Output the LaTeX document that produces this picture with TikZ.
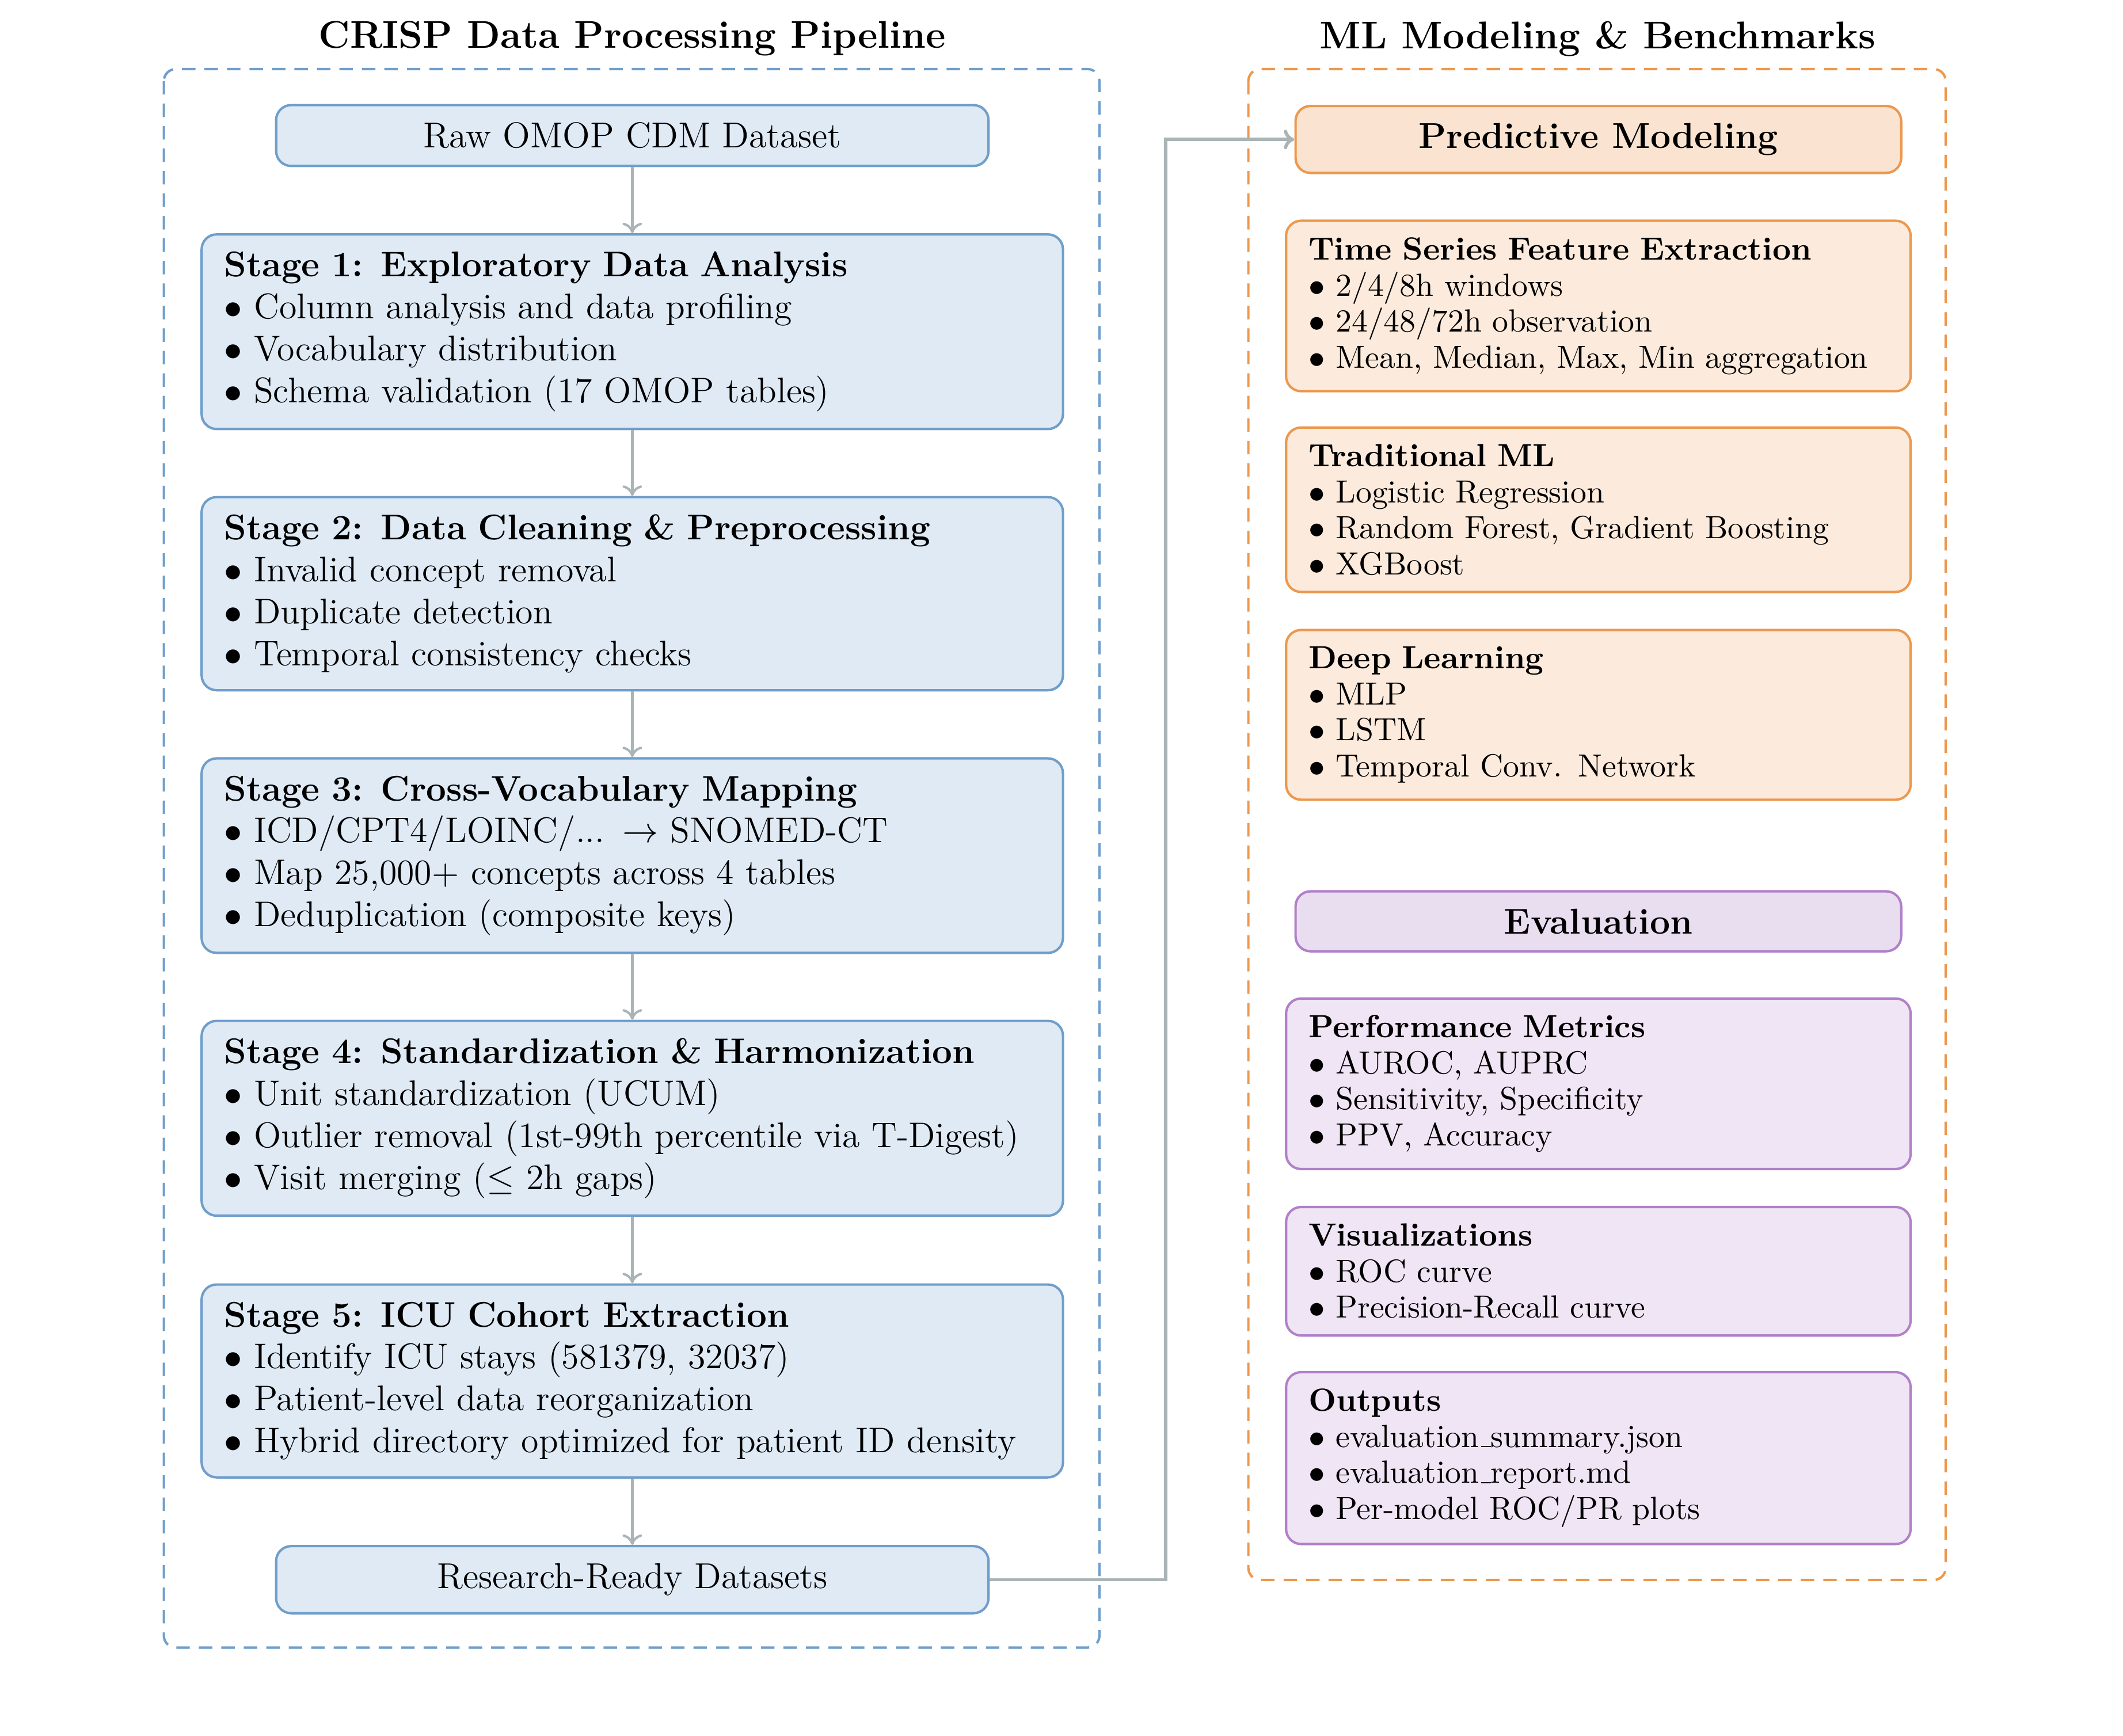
\documentclass[tikz,border=0pt]{standalone}
\usetikzlibrary{arrows.meta}
\definecolor{bluebd}{RGB}{112,158,203}
\definecolor{bluefill}{RGB}{223,234,245}
\definecolor{orbd}{RGB}{236,152,78}
\definecolor{orhead}{RGB}{250,228,209}
\definecolor{orfill}{RGB}{252,235,220}
\definecolor{pubd}{RGB}{177,128,201}
\definecolor{puhead}{RGB}{233,222,240}
\definecolor{pufill}{RGB}{240,229,244}
\definecolor{flowgray}{RGB}{170,180,182}
\newcommand\ulbar{\leavevmode\kern.06em\vbox{\hrule width.3em}}
\begin{document}
\begin{tikzpicture}[x=0.4516pt,y=-0.4516pt,
  basebox/.style={line width=0.8pt, rounded corners=5pt, inner ysep=5.8pt},
  stagebox/.style={basebox, draw=bluebd, fill=bluefill, text width=272.3pt, inner xsep=7.5pt, align=left, font=\fontsize{11.9}{14}\selectfont},
  endbox/.style={basebox, draw=bluebd, fill=bluefill, minimum width=237.6pt, font=\large},
  orhdr/.style={basebox, draw=orbd, fill=orhead, minimum width=202pt, font=\large\bfseries},
  orsub/.style={basebox, draw=orbd, fill=orfill, text width=193.3pt, inner xsep=7.5pt, inner ysep=5.6pt, align=left, font=\fontsize{10.7}{12}\selectfont},
  puhdr/.style={basebox, draw=pubd, fill=puhead, minimum width=202pt, font=\large\bfseries},
  pusub/.style={basebox, draw=pubd, fill=pufill, text width=193.3pt, inner xsep=7.5pt, inner ysep=5.6pt, align=left, font=\fontsize{10.7}{12}\selectfont},
  grp/.style={line width=0.8pt, dash pattern=on 4.5pt off 3pt, rounded corners=4pt},
  ttl/.style={font=\fontsize{12.9}{15}\selectfont\bfseries},
  flow/.style={draw=flowgray, line width=0.8pt, -{To[length=3.5pt,width=6.5pt]}},
  flowthick/.style={draw=flowgray, line width=1.1pt, -{To[length=3.5pt,width=6.5pt]}}
]
\useasboundingbox (0,0) rectangle (1568,1282);

% group frames
\draw[grp, draw=bluebd] (121,51) rectangle (812,1217);
\draw[grp, draw=orbd] (922,51) rectangle (1437,1167);

% titles
\node[ttl] (t1) at (467,28.5) {CRISP Data Processing Pipeline};
\node[ttl] (t2) at (1180,28.5) {ML Modeling \& Benchmarks};

% left column
\node[endbox] (raw) at (467,100.1) {Raw OMOP CDM Dataset};
\node[stagebox] (s1) at (467,245) {\textbf{Stage 1: Exploratory Data Analysis}\\
$\bullet$ Column analysis and data profiling\\
$\bullet$ Vocabulary distribution\\
$\bullet$ Schema validation (17 OMOP tables)};
\node[stagebox] (s2) at (467,438.5) {\textbf{Stage 2: Data Cleaning \& Preprocessing}\\
$\bullet$ Invalid concept removal\\
$\bullet$ Duplicate detection\\
$\bullet$ Temporal consistency checks};
\node[stagebox] (s3) at (467,632) {\textbf{Stage 3: Cross-Vocabulary Mapping}\\
$\bullet$ ICD/CPT4/LOINC/... $\rightarrow$ SNOMED-CT\\
$\bullet$ Map 25,000+ concepts across 4 tables\\
$\bullet$ Deduplication (composite keys)};
\node[stagebox] (s4) at (467,826) {\textbf{Stage 4: Standardization \& Harmonization}\\
$\bullet$ Unit standardization (UCUM)\\
$\bullet$ Outlier removal (1st-99th percentile via T-Digest)\\
$\bullet$ Visit merging ($\leq$ 2h gaps)};
\node[stagebox] (s5) at (467,1020) {\textbf{Stage 5: ICU Cohort Extraction}\\
$\bullet$ Identify ICU stays (581379, 32037)\\
$\bullet$ Patient-level data reorganization\\
$\bullet$ Hybrid directory optimized for patient ID density};
\node[endbox] (rr) at (467,1166.8) {Research-Ready Datasets};

% right column
\node[orhdr] (pred) at (1180.5,103) {Predictive Modeling};
\node[orsub] (ts) at (1180.5,226) {\textbf{Time Series Feature Extraction}\\
$\bullet$ 2/4/8h windows\\
$\bullet$ 24/48/72h observation\\
$\bullet$ Mean, Median, Max, Min aggregation};
\node[orsub] (tml) at (1180.5,376.5) {\textbf{Traditional ML}\\
$\bullet$ Logistic Regression\\
$\bullet$ Random Forest, Gradient Boosting\\
$\bullet$ XGBoost};
\node[orsub] (dl) at (1180.5,528) {\textbf{Deep Learning}\\
$\bullet$ MLP\\
$\bullet$ LSTM\\
$\bullet$ Temporal Conv. Network};
\node[puhdr] (eval) at (1180.5,680.5) {Evaluation};
\node[pusub] (pm) at (1180.5,800.5) {\textbf{Performance Metrics}\\
$\bullet$ AUROC, AUPRC\\
$\bullet$ Sensitivity, Specificity\\
$\bullet$ PPV, Accuracy};
\node[pusub] (vis) at (1180.5,939) {\textbf{Visualizations}\\
$\bullet$ ROC curve\\
$\bullet$ Precision-Recall curve};
\node[pusub] (out) at (1180.5,1077) {\textbf{Outputs}\\
$\bullet$ evaluation\ulbar summary.json\\
$\bullet$ evaluation\ulbar report.md\\
$\bullet$ Per-model ROC/PR plots};

% connectors
\draw[flow] (raw) -- (s1);
\draw[flow] (s1) -- (s2);
\draw[flow] (s2) -- (s3);
\draw[flow] (s3) -- (s4);
\draw[flow] (s4) -- (s5);
\draw[flow] (s5) -- (rr);
\coordinate (turn) at (861,1166.8);
\draw[flowthick] (rr.east) -- (turn) |- (pred.west);
\end{tikzpicture}
\end{document}
